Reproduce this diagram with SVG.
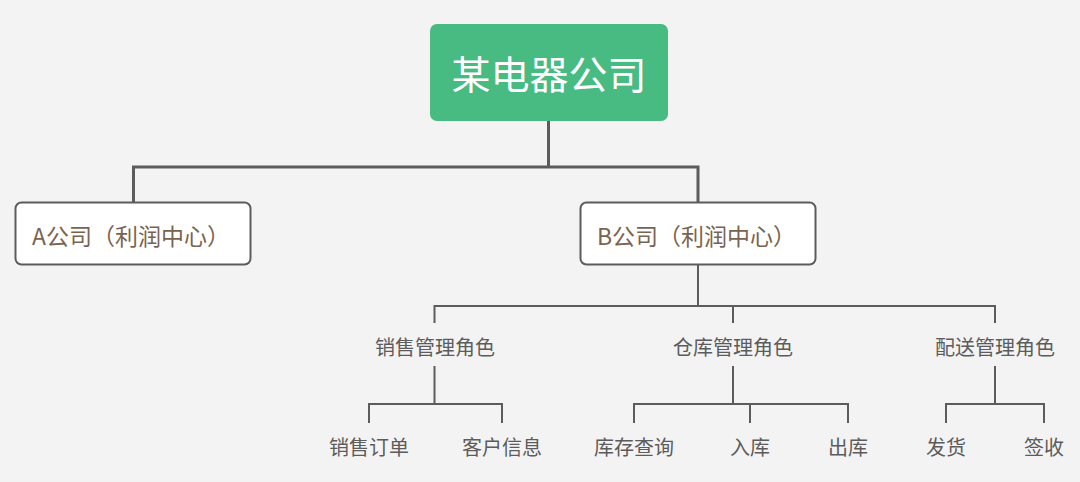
<svg xmlns="http://www.w3.org/2000/svg" width="1080" height="482" viewBox="0 0 1080 482">
<style>
.t{font-family:"Noto Sans CJK SC","Noto Sans",sans-serif;text-anchor:middle}
.lbl{font-size:20px;fill:#5c5c5c}
.co{font-size:23px;fill:#7a6350;text-anchor:start}
.box{fill:#ffffff;stroke:#5c5c5c;stroke-width:2}
.ln{fill:none;stroke:#5c5c5c;stroke-width:2}
.ln3{fill:none;stroke:#5c5c5c;stroke-width:3}
</style>
<rect width="1080" height="482" fill="#f3f3f3"/>
<g id="connectors">
<path class="ln3" d="M548.5 121V167M133.5 202V167H698V202"/>
<path class="ln" d="M698 265V306M434.5 323V306H995V323M733 306V323"/>
<path class="ln" d="M434.5 366V404M369 423V404H502V423"/>
<path class="ln" d="M733 366V404M634 423V404H848V423M750 404V423"/>
<path class="ln" d="M995 366V404M946 423V404H1044V423"/>
</g>
<g id="root">
<rect x="430" y="24" width="238" height="97" rx="7" fill="#47bb82"/>
<text class="t" x="549" y="89" font-size="39" fill="#ffffff">某电器公司</text>
</g>
<g id="companyA">
<rect class="box" x="15.5" y="202.5" width="235" height="62" rx="6"/>
<text class="t co" x="32" y="245">A公司（利润中心）</text>
</g>
<g id="companyB">
<rect class="box" x="580.5" y="202.5" width="235" height="62" rx="6"/>
<text class="t co" x="597" y="245">B公司（利润中心）</text>
</g>
<g id="salesRole"><text class="t lbl" x="435" y="355">销售管理角色</text></g>
<g id="whRole"><text class="t lbl" x="733" y="355">仓库管理角色</text></g>
<g id="dlvRole"><text class="t lbl" x="995" y="355">配送管理角色</text></g>
<g id="salesOrder"><text class="t lbl" x="369" y="455">销售订单</text></g>
<g id="custInfo"><text class="t lbl" x="502" y="455">客户信息</text></g>
<g id="stockQuery"><text class="t lbl" x="634" y="455">库存查询</text></g>
<g id="inbound"><text class="t lbl" x="750" y="455">入库</text></g>
<g id="outbound"><text class="t lbl" x="848" y="455">出库</text></g>
<g id="ship"><text class="t lbl" x="946" y="455">发货</text></g>
<g id="sign"><text class="t lbl" x="1044" y="455">签收</text></g>
</svg>
